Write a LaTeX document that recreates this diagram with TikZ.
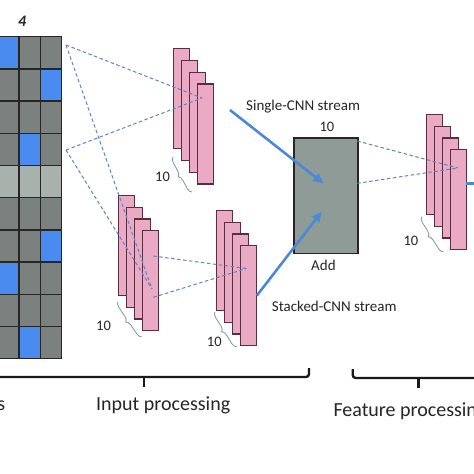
\documentclass[tikz,border=0pt]{standalone}
\usepackage{fontspec}
\setmainfont{Carlito}
\usepackage{tikz}
\usetikzlibrary{arrows.meta,decorations.pathreplacing}
\definecolor{mapfill}{HTML}{EBAAC4}
\definecolor{mapline}{HTML}{5C2D3E}
\definecolor{cellgray}{HTML}{7B817E}
\definecolor{cellblue}{HTML}{4A8BF0}
\definecolor{celllight}{HTML}{A9B1AD}
\definecolor{addfill}{HTML}{8E9B97}
\definecolor{rfline}{HTML}{6283BE}
\definecolor{flowblue}{HTML}{4C88D6}
\definecolor{bracegray}{HTML}{7A96AC}
\tikzstyle{map}=[draw=mapline, fill=mapfill, line width=1.1pt, minimum width=16pt, minimum height=100pt, inner sep=0pt, anchor=north west]
\tikzstyle{gridline}=[draw=black!85, line width=1.3pt]
\tikzstyle{rf}=[draw=rfline, line width=1pt, dash pattern=on 3.5pt off 2.5pt]
\tikzstyle{flow}=[draw=flowblue, line width=2.6pt, -{Triangle[length=10pt,width=9pt]}]
\tikzstyle{lbl}=[inner sep=0pt, anchor=base west, text=black!85, font=\fontsize{15}{18}\selectfont]
\tikzstyle{num}=[inner sep=0pt, anchor=base west, text=black!85, font=\fontsize{14.5}{17}\selectfont]
\tikzstyle{big}=[inner sep=0pt, anchor=base west, text=black!85, font=\fontsize{20}{24}\selectfont]
\tikzstyle{sizebrace}=[draw=bracegray, line width=0.8pt, decorate, decoration={brace, amplitude=5pt}]
\tikzstyle{stage}=[draw=black!90, line width=2.4pt, rounded corners=3pt]
\newcommand{\cnnstack}[3]{%
  \foreach \k in {0,...,3}
    \node[map] (#1\k) at ({#2+8*\k},{#3+11.7*\k}) {};
}

\begin{document}
\begin{tikzpicture}[x=1pt,y=-1pt]
        \clip (0,0) rectangle (474,474);
        \fill[white] (0,0) rectangle (474,474);

        % input matrix
        \fill[cellgray] (-2.3,36.7) rectangle (61.6,358.7);
        \fill[celllight] (-2.3,{36.7+4*32.2}) rectangle (61.6,{36.7+5*32.2});
        \foreach \r/\c in {0/0,1/2,3/1,6/2,7/0,9/1}
          \fill[cellblue] ({-2.3+21.3*\c},{36.7+32.2*\r}) rectangle +(21.3,32.2);
        \foreach \c in {0,...,3}
          \draw[gridline] ({-2.3+21.3*\c},36.7) -- ++(0,322);
        \foreach \r in {0,...,10}
          \draw[gridline] (-2.3,{36.7+32.2*\r}) -- ++(63.9,0);
        \node[num, font=\fontsize{16}{18}\selectfont\bfseries\itshape] (four) at (17.8,26) {4};

        % feature maps
        \cnnstack{s}{172.7}{48.3}
        \cnnstack{k}{118.3}{195}
        \cnnstack{m}{215.7}{210}
        \cnnstack{f}{426}{114}

        \node[draw=black!85, fill=addfill, line width=1.3pt, minimum width=64pt, minimum height=115.4pt, inner sep=0pt, anchor=north west] (add) at (293.3,137.3) {};

        % receptive fields
        \coordinate (g1) at (66,45);
        \coordinate (g2) at (66,150);
        \coordinate (ts) at (202,98);
        \coordinate (tk) at (152,289);
        \coordinate (k1) at (153.3,256);
        \coordinate (k2) at (153.3,297.3);
        \coordinate (tm) at (246.5,268.5);
        \coordinate (a1) at (357.3,141);
        \coordinate (a2) at (357.3,183.3);
        \coordinate (tf) at (458,168);
        \path[rf] (g1) -- (ts);
        \path[rf] (g2) -- (ts);
        \path[rf] (g1) -- (tk);
        \path[rf] (g2) -- (tk);
        \path[rf] (k1) -- (tm);
        \path[rf] (k2) -- (tm);
        \path[rf] (a1) -- (tf);
        \path[rf] (a2) -- (tf);

        % streams
        \coordinate (ss) at (230,110);
        \coordinate (se) at (323.3,183.3);
        \coordinate (ke) at (321.7,211.7);
        \coordinate (fo) at (466,183.3);
        \coordinate (fx) at (480,183.3);
        \draw[flow] (ss) -- (se);
        \draw[flow] (m3.east) -- (ke);
        \draw[draw=flowblue, line width=2.6pt] (fo) -- (fx);

        \node[lbl] (single) at (246,110.7) {Single-CNN stream};
        \node[lbl] (stacked) at (271.7,311.7) {Stacked-CNN stream};
        \node[lbl] (addlbl) at (311,270.7) {Add};
        \node[num] (addn) at (319.3,131) {10};

        % sizes
        \draw[sizebrace] (192,192) -- (173,157);
        \draw[sizebrace] (141.7,336.7) -- (118,301.7);
        \draw[sizebrace] (236.7,346.7) -- (215,311.7);
        \draw[sizebrace] (443.3,251.7) -- (421.7,216.7);
        \node[num] (sn) at (155,181.7) {10};
        \node[num] (kn) at (96,330) {10};
        \node[num] (mn) at (206.7,346) {10};
        \node[num] (fn) at (403.3,245) {10};

        % stages
        \draw[stage] (309,368) -- (309,377) -- (-21,377);
        \draw[stage] (144,376) -- (144,387);
        \draw[stage] (352.7,369) -- (352.7,378) -- (484,378);
        \draw[stage] (418.3,377) -- (418.3,388.3);
        \node[big, anchor=base east] (inlbl) at (5.5,410) {s};
        \node[big] (input) at (96,410) {Input processing};
        \node[big] (feature) at (333.3,416.7) {Feature processing};
\end{tikzpicture}
\end{document}
